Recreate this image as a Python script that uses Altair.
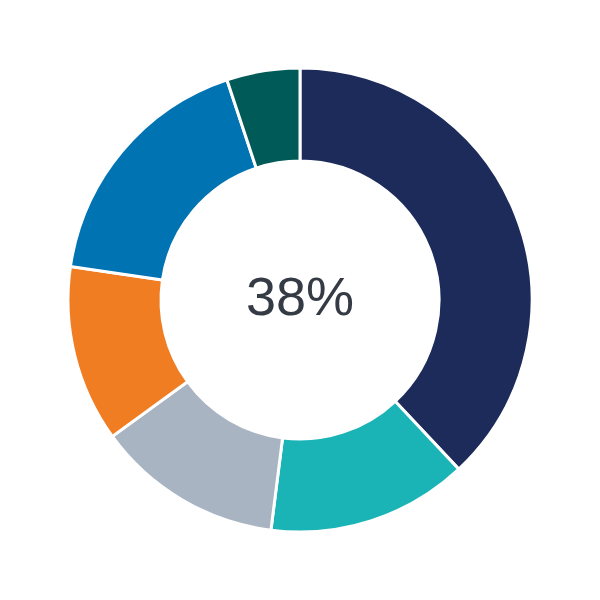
import altair as alt
import pandas as pd

categories = ["A", "B", "C", "D", "E", "F"]
values = [38, 14, 13, 12.3, 17.6, 5.1]
colors = ["#1c2b5a", "#1bb4b6", "#a9b4c2", "#f07d22", "#0073b3", "#005a58"]
center_label = "38%"

df = pd.DataFrame({"cat": categories, "val": values, "order": list(range(len(categories)))})

arc = alt.Chart(df).mark_arc(outerRadius=232, innerRadius=139, stroke="white", strokeWidth=3).encode(
    theta=alt.Theta("val:Q", stack=True),
    order=alt.Order("order:Q"),
    color=alt.Color("cat:N", scale=alt.Scale(domain=categories, range=colors), legend=None),
)

text = alt.Chart(pd.DataFrame({"t": [center_label]})).mark_text(
    font="Liberation Sans", fontSize=54, color="#353b45", baseline="alphabetic", align="center"
).encode(text="t:N", x=alt.value(292), y=alt.value(307))

chart = alt.layer(arc, text).properties(
    width=584, height=584, padding=0, autosize=alt.AutoSizeParams(type="none")
).configure_view(stroke=None)

chart.save("out.html", embed_options={"renderer": "svg", "actions": False})
